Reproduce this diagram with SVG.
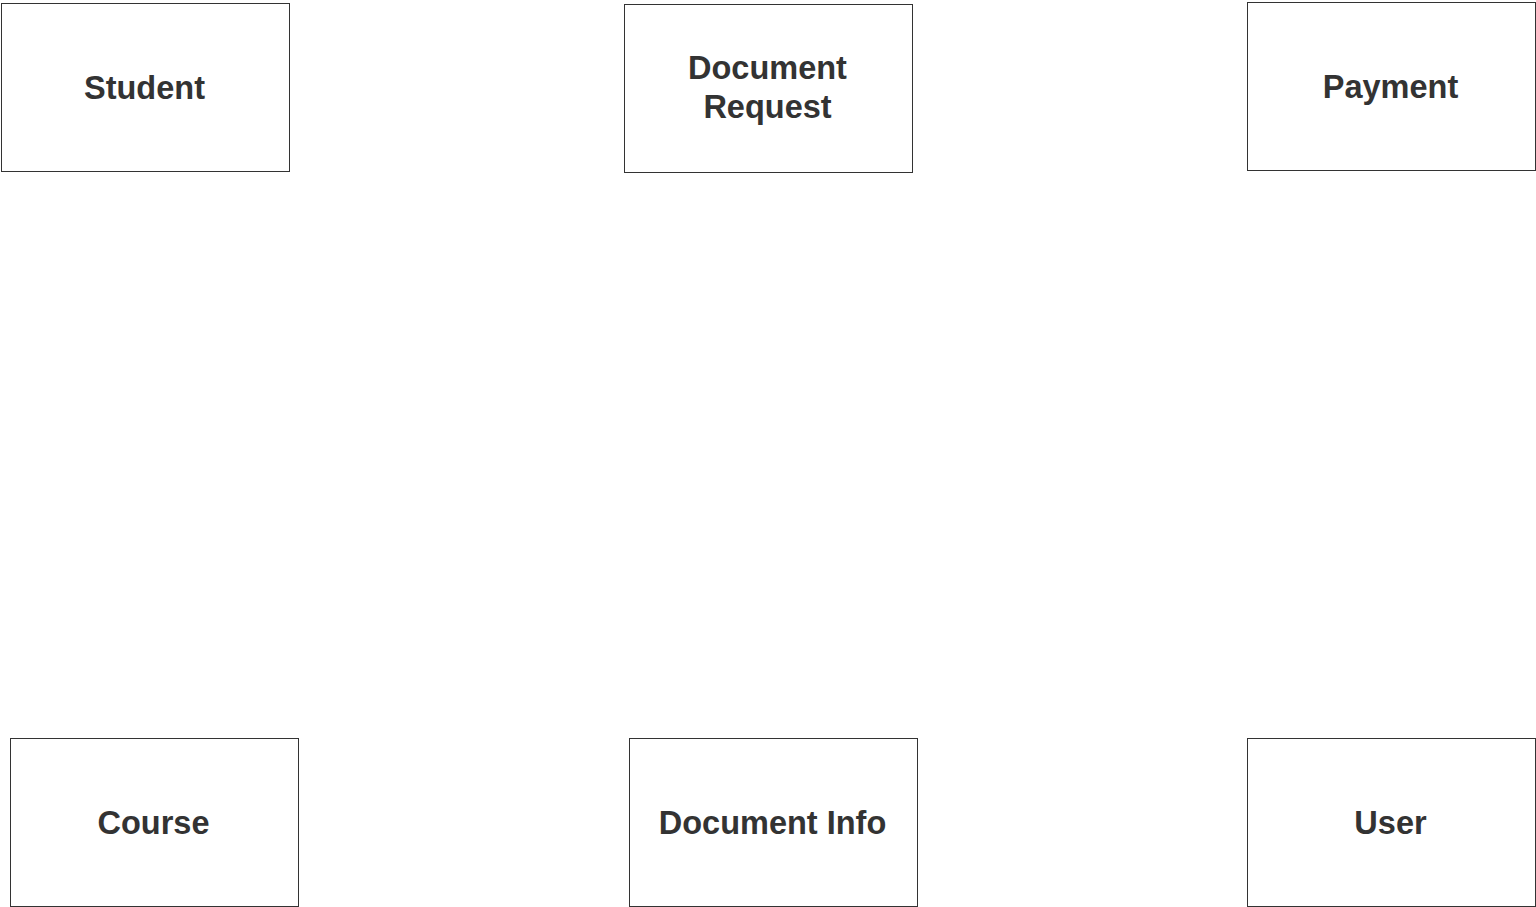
<svg xmlns="http://www.w3.org/2000/svg" width="1536" height="907" viewBox="0 0 1536 907">
<style>
.box{fill:#ffffff;stroke:#333333;stroke-width:1}
.lbl{font-family:"Liberation Sans",Arial,Helvetica,sans-serif;font-weight:bold;font-size:32.5px;fill:#333333;text-anchor:middle}
</style>
<rect width="1536" height="907" fill="#ffffff"/>
<g id="connectors"></g>
<g id="student">
<rect class="box" x="1.5" y="3.5" width="288" height="168"/>
<text class="lbl" x="144.5" y="99">Student</text>
</g>
<g id="document-request">
<rect class="box" x="624.5" y="4.5" width="288" height="168"/>
<text class="lbl" x="767.5" y="79">Document</text>
<text class="lbl" x="767.5" y="118">Request</text>
</g>
<g id="payment">
<rect class="box" x="1247.5" y="2.5" width="288" height="168"/>
<text class="lbl" x="1390.5" y="98">Payment</text>
</g>
<g id="course">
<rect class="box" x="10.5" y="738.5" width="288" height="168"/>
<text class="lbl" x="153.5" y="834">Course</text>
</g>
<g id="document-info">
<rect class="box" x="629.5" y="738.5" width="288" height="168"/>
<text class="lbl" x="772.5" y="834">Document Info</text>
</g>
<g id="user">
<rect class="box" x="1247.5" y="738.5" width="288" height="168"/>
<text class="lbl" x="1390.5" y="834">User</text>
</g>
</svg>
